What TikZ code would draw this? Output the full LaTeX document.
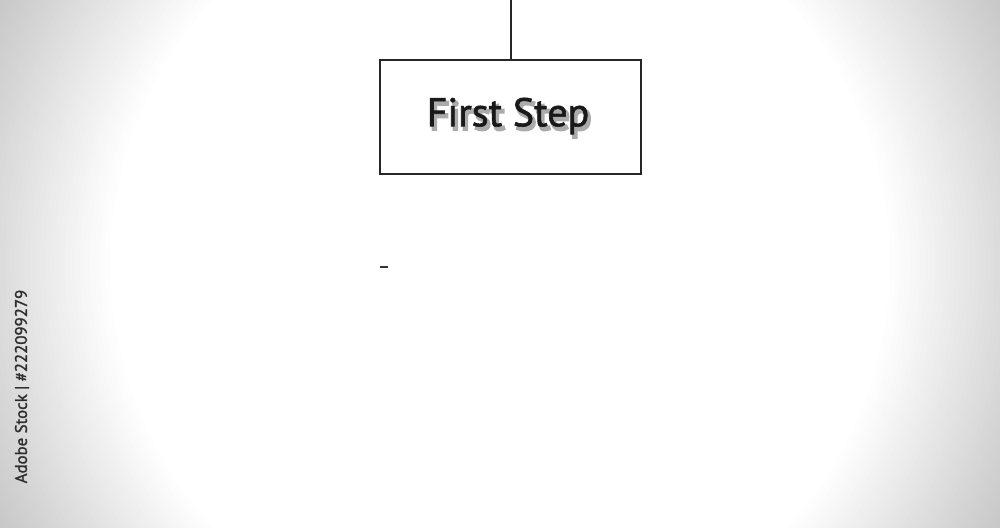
\documentclass[tikz,border=0pt]{standalone}
\usepackage{fontspec}
\setmainfont{PT Sans}
\newfontfamily\stepfont[FakeBold=1.5]{PT Sans}
\newfontfamily\shadowfont[FakeBold=6]{PT Sans}
\newfontfamily\wmfont[FakeBold=1.5]{PT Sans}
\begin{document}
\begin{tikzpicture}[x=1pt,y=-1pt,
  stepbox/.style={draw=black!85,line width=1.1pt,minimum width=261pt,minimum height=114pt,inner sep=0pt},
  steptext/.style={font=\stepfont\fontsize{40}{44}\selectfont,text=black!90},
  shadowtext/.style={font=\shadowfont\fontsize{40}{44}\selectfont,text=black!33},
  link/.style={draw=black!85,line width=1.1pt}]
\useasboundingbox (0,0) rectangle (1000,527);
\begin{scope}
\clip (0,0) rectangle (1000,527);
\fill[black!27] (0,0) rectangle (1000,527);
\foreach \r in {600,595,...,390} {
  \pgfmathsetmacro{\g}{max(0,26*(\r-390)/210)}
  \fill[black!\g] (500,263.5) circle[radius=\r];
}
\fill[white] (500,263.5) circle[radius=388];
\end{scope}
\node[stepbox] (box) at (510.5,117) {};
\coordinate (top) at (511,0);
\draw[link] (top) -- (box.north -| top);
\node[shadowtext] (shadow) at (510.5,119.5) {First Step};
\node[steptext] (label) at (508,116) {First Step};
\coordinate (dashA) at (380,267);
\coordinate (dashB) at (388,267);
\draw[draw=black!80,line width=1.6pt] (dashA) -- (dashB);
\node[font=\wmfont\fontsize{16.8}{18}\selectfont,text=black!82,rotate=90] (wm) at (22,386.5) {Adobe Stock | \#222099279};
\end{tikzpicture}
\end{document}
